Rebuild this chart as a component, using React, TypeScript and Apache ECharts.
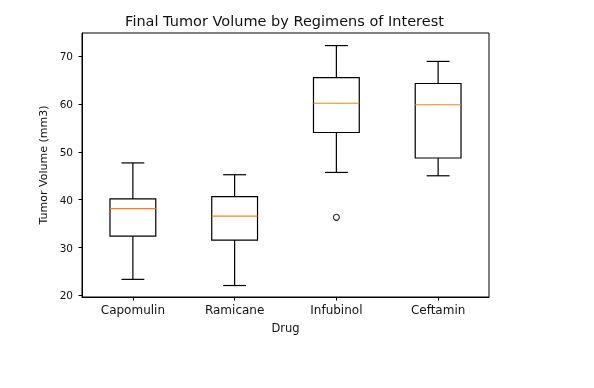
import React, { useEffect, useRef } from "react";
import * as echarts from "echarts";

const categories = ["Capomulin", "Ramicane", "Infubinol", "Ceftamin"];
const whiskerLow = [23.34, 22.05, 45.7, 45.0];
const q1 = [32.38, 31.56, 54.05, 48.72];
const medians = [38.13, 36.56, 60.17, 59.85];
const q3 = [40.16, 40.66, 65.53, 64.3];
const whiskerHigh = [47.69, 45.22, 72.23, 68.92];
const outlierCategory = ["Infubinol"];
const outlierValues = [36.32];
const yTicks = [20, 30, 40, 50, 60, 70];

const FONT = "DejaVu Sans";

export default function App() {
  const ref = useRef<HTMLDivElement>(null);
  useEffect(() => {
    if (!ref.current) return;
    const chart = echarts.init(ref.current, null, { renderer: "svg" });
    const boxData = categories.map((_, i) => [
      i,
      whiskerLow[i],
      q1[i],
      medians[i],
      q3[i],
      whiskerHigh[i],
    ]);
    const outlierData = outlierCategory.map((c, i) => [
      categories.indexOf(c),
      outlierValues[i],
    ]);
    chart.setOption({
      animation: false,
      textStyle: { fontFamily: FONT },
      grid: {
        left: 82,
        top: 33,
        width: 407,
        height: 264,
        show: true,
        borderColor: "#000",
        borderWidth: 1,
        backgroundColor: "transparent",
        outerBoundsMode: "none",
      },
      graphic: [
        {
          type: "text",
          x: 284.5,
          y: 20.5,
          style: {
            text: "Final Tumor Volume by Regimens of Interest",
            fontFamily: FONT,
            fontSize: 14.5,
            fill: "#111",
            textAlign: "center",
            textVerticalAlign: "middle",
          },
        },
      ],
      xAxis: {
        type: "category",
        data: categories,
        boundaryGap: true,
        name: "Drug",
        nameLocation: "middle",
        nameGap: 25,
        nameTextStyle: { fontFamily: FONT, fontSize: 11.5, color: "#111" },
        axisLine: { show: true, lineStyle: { color: "#000", width: 1 } },
        axisTick: {
          show: true,
          alignWithLabel: true,
          length: 3.5,
          lineStyle: { color: "#000" },
        },
        axisLabel: { fontFamily: FONT, fontSize: 12, color: "#111", margin: 7 },
        splitLine: { show: false },
      },
      yAxis: {
        type: "value",
        min: 19.65,
        max: 74.86,
        name: "Tumor Volume (mm3)",
        nameLocation: "middle",
        nameRotate: 90,
        nameGap: 31,
        nameTextStyle: { fontFamily: FONT, fontSize: 11, color: "#111" },
        axisLine: { show: true, lineStyle: { color: "#000", width: 1 } },
        axisTick: {
          show: true,
          length: 3.5,
          customValues: yTicks,
          lineStyle: { color: "#000" },
        },
        axisLabel: {
          fontFamily: FONT,
          fontSize: 10.5,
          color: "#111",
          margin: 9,
          customValues: yTicks,
        },
        splitLine: { show: false },
      },
      series: [
        {
          type: "custom",
          data: boxData,
          encode: { x: 0, y: [1, 2, 3, 4, 5] },
          renderItem: (params: any, api: any) => {
            const idx = api.value(0);
            const x = api.coord([idx, 0])[0];
            const yLo = api.coord([idx, api.value(1)])[1];
            const yQ1 = api.coord([idx, api.value(2)])[1];
            const yMed = api.coord([idx, api.value(3)])[1];
            const yQ3 = api.coord([idx, api.value(4)])[1];
            const yHi = api.coord([idx, api.value(5)])[1];
            const band = api.size([1, 0])[0];
            const bw = band * 0.45;
            const cw = bw * 0.5;
            const black = { stroke: "#000", lineWidth: 1.2, fill: "none" };
            return {
              type: "group",
              children: [
                { type: "line", shape: { x1: x, y1: yLo, x2: x, y2: yQ1 }, style: black },
                { type: "line", shape: { x1: x, y1: yQ3, x2: x, y2: yHi }, style: black },
                { type: "line", shape: { x1: x - cw / 2, y1: yLo, x2: x + cw / 2, y2: yLo }, style: black },
                { type: "line", shape: { x1: x - cw / 2, y1: yHi, x2: x + cw / 2, y2: yHi }, style: black },
                {
                  type: "rect",
                  shape: { x: x - bw / 2, y: yQ3, width: bw, height: yQ1 - yQ3 },
                  style: { stroke: "#000", lineWidth: 1.2, fill: "rgba(0,0,0,0)" },
                },
                {
                  type: "line",
                  shape: { x1: x - bw / 2, y1: yMed, x2: x + bw / 2, y2: yMed },
                  style: { stroke: "#ff7f0e", lineWidth: 1.2 },
                },
              ],
            };
          },
          z: 2,
        },
        {
          type: "scatter",
          data: outlierData,
          symbol: "circle",
          symbolSize: 6,
          itemStyle: { color: "#fff", borderColor: "#000", borderWidth: 1.2 },
          z: 3,
        },
      ],
    });
    return () => chart.dispose();
  }, []);
  return (
    <div
      ref={ref}
      style={{ position: "fixed", left: 0, top: 0, width: 594, height: 388 }}
    />
  );
}
